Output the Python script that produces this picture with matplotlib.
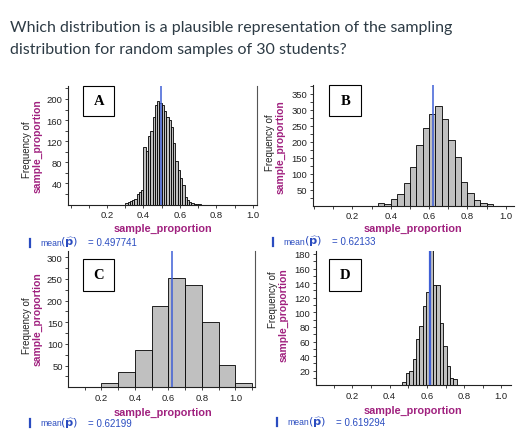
import numpy as np
import matplotlib
matplotlib.use("Agg")
import matplotlib.pyplot as plt
from matplotlib.patches import Rectangle
from matplotlib.lines import Line2D
from matplotlib.ticker import FixedLocator, FixedFormatter

# ---------------- data ----------------
title_lines = ["Which distribution is a plausible representation of the sampling",
               "distribution for random samples of 30 students?"]

panel_letters = ["A", "B", "C", "D"]

a_bin_start = 0.30
a_bin_width = 0.0125
a_counts = [3, 5, 6, 8, 10, 19, 24, 28,
            109, 101, 130, 139, 165, 188, 196, 193,
            188, 178, 165, 160, 146, 117, 82, 66, 50, 37, 15, 8, 4, 2, 1, 1, 1]
a_mean = 0.497741

b_bin_start = 10 / 30
b_bin_width = 1 / 30
b_counts = [8, 5, 19, 37, 69, 121, 189, 243, 286, 312, 270, 204, 152, 74, 40, 18, 9, 5]
b_mean = 0.62133

c_bin_start = 0.2
c_bin_width = 0.1
c_counts = [10, 35, 85, 188, 252, 235, 150, 52, 10]
c_mean = 0.62199

d_bin_start = 0.468
d_bin_width = 0.0183
d_counts = [5, 17, 20, 36, 64, 81, 109, 128, 190, 137, 137, 86, 54, 26, 10, 8]
d_mean = 0.619294

mean_labels = ["0.497741", "0.62133", "0.62199", "0.619294"]

x_tick_labels = ["0.2", "0.4", "0.6", "0.8", "1.0"]
x_tick_values = [0.2, 0.4, 0.6, 0.8, 1.0]

a_yticks = [40, 80, 120, 160, 200]
b_yticks = [50, 100, 150, 200, 250, 300, 350]
c_yticks = [50, 100, 150, 200, 250, 300]
d_yticks = [20, 40, 60, 80, 100, 120, 140, 160, 180]

# ---------------- style ----------------
W, H = 532, 431
fig = plt.figure(figsize=(W / 100, H / 100), dpi=100)
fig.patch.set_facecolor("white")

TICK_FONT = ["Liberation Sans Narrow", "Liberation Sans", "DejaVu Sans"]
LABEL_FONT = ["Liberation Sans", "DejaVu Sans"]
MAGENTA = "#a0217f"
BLUE_LINE = "#3f5fd6"
BLUE_TEXT = "#2a4cc0"
BAR_FACE = "#c0c0c0"


def px_axes(l, t, r, b):
    return fig.add_axes([l / W, 1 - b / H, (r - l) / W, (b - t) / H])


def fx(x):
    return x / W


def fy(y):
    return 1 - y / H


def draw_panel(rect, xlim, ylim, start, width, counts, mean, yticks, yminor_step,
               right_spine, mean_lw=1.1):
    ax = px_axes(*rect)
    edges = start + width * np.arange(len(counts))
    ax.bar(edges, counts, width=width, align="edge", color=BAR_FACE,
           edgecolor="black", linewidth=0.6, zorder=2)
    ax.axvline(mean, color=BLUE_LINE, lw=mean_lw, zorder=3)
    ax.set_xlim(*xlim)
    ax.set_ylim(*ylim)
    ax.spines["top"].set_visible(False)
    ax.spines["right"].set_visible(right_spine)
    ax.spines["right"].set_color("#555555")
    for s in ["left", "bottom"]:
        ax.spines[s].set_color("#222222")
        ax.spines[s].set_linewidth(0.8)
    ax.xaxis.set_major_locator(FixedLocator(x_tick_values))
    ax.xaxis.set_major_formatter(FixedFormatter(x_tick_labels))
    xmin_t = np.arange(0, xlim[1] + 1e-9, 0.1)
    ax.xaxis.set_minor_locator(FixedLocator(list(xmin_t)))
    ax.yaxis.set_major_locator(FixedLocator(yticks))
    ax.yaxis.set_minor_locator(FixedLocator(list(np.arange(yminor_step, ylim[1], yminor_step))))
    ax.tick_params(axis="both", which="both", direction="out", length=2.5,
                   width=0.6, color="#222222", labelsize=6.8, pad=1.5)
    for lab in ax.get_xticklabels() + ax.get_yticklabels():
        lab.set_family(TICK_FONT)
        lab.set_color("#222222")
    return ax


# Panel A
draw_panel((68, 87, 257, 205.5), (-0.0137, 1.022), (0, 224.6),
           a_bin_start, a_bin_width, a_counts, a_mean, a_yticks, 20, True)
# Panel B
draw_panel((312.7, 86, 514, 206.5), (-0.007, 1.043), (0, 376.6),
           b_bin_start, b_bin_width, b_counts, b_mean, b_yticks, 25, False)
# Panel C
draw_panel((68.3, 251.7, 255, 388.3), (0.002, 1.117), (0, 315),
           c_bin_start, c_bin_width, c_counts, c_mean, c_yticks, 25, True)
# Panel D
draw_panel((316, 252, 511, 386.3), (0.004, 1.052), (0, 184),
           d_bin_start, d_bin_width, d_counts, d_mean, d_yticks, 10, False, mean_lw=1.6)

# ---------------- title ----------------
for i, line in enumerate(title_lines):
    fig.text(fx(10), fy(28 + 22 * i), line, fontsize=11.5, family=["Lato", "DejaVu Sans"],
             color="#2d3b45", va="center", ha="left")

# ---------------- axis labels ----------------
ylab_pos = [((27, 150), (37.5, 146)), ((270, 143), (280.5, 147)),
            ((27, 326), (37.5, 319)), ((273, 300), (284, 315))]
xlab_pos = [(163, 229), (413, 229), (163, 412.5), (413, 411)]
for (fpos, spos) in ylab_pos:
    fig.text(fx(fpos[0]), fy(fpos[1]), "Frequency of", rotation=90, fontsize=7.0,
             family=LABEL_FONT, color="#222222", ha="center", va="center")
    fig.text(fx(spos[0]), fy(spos[1]), "sample_proportion", rotation=90, fontsize=7.4,
             family=LABEL_FONT, fontweight="bold", color=MAGENTA, ha="center", va="center")
for (x, y) in xlab_pos:
    fig.text(fx(x), fy(y), "sample_proportion", fontsize=7.8, family=LABEL_FONT,
             fontweight="bold", color=MAGENTA, ha="center", va="center")

# ---------------- mean legend ----------------
mean_pos = [(29.5, 243.5), (273, 242.5), (29.5, 424), (277, 423)]
for (x, y), val in zip(mean_pos, mean_labels):
    fig.add_artist(Line2D([fx(x), fx(x)], [fy(y + 4), fy(y - 4)], transform=fig.transFigure,
                          color=BLUE_TEXT, lw=1.6))
    fig.text(fx(x + 10.5), fy(y), "mean", fontsize=6.2, family=TICK_FONT, color=BLUE_TEXT,
             ha="left", va="center")
    fig.text(fx(x + 31), fy(y - 0.5), r"$(\widehat{\mathbf{p}})$", fontsize=8.2, color=BLUE_TEXT,
             ha="left", va="center")
    fig.text(fx(x + 58.5), fy(y), "= " + val, fontsize=7.0, family=TICK_FONT, color=BLUE_TEXT,
             ha="left", va="center")

# ---------------- letter boxes ----------------
boxes = [(83.3, 86.7, 114.3, 117.3), (329.3, 86, 361, 117.3),
         (83.3, 260, 114.3, 291.7), (329.3, 260, 361, 291.7)]
for (l, t, r, b), letter in zip(boxes, panel_letters):
    fig.add_artist(Rectangle((fx(l), fy(b)), (r - l) / W, (b - t) / H, transform=fig.transFigure,
                             facecolor="white", edgecolor="black", lw=0.8, zorder=5))
    fig.text(fx((l + r) / 2), fy((t + b) / 2), letter, fontsize=10.5,
             family=["Liberation Serif", "DejaVu Serif"], fontweight="bold",
             color="black", ha="center", va="center", zorder=6)

fig.savefig("out.png", dpi=100, facecolor="white")
